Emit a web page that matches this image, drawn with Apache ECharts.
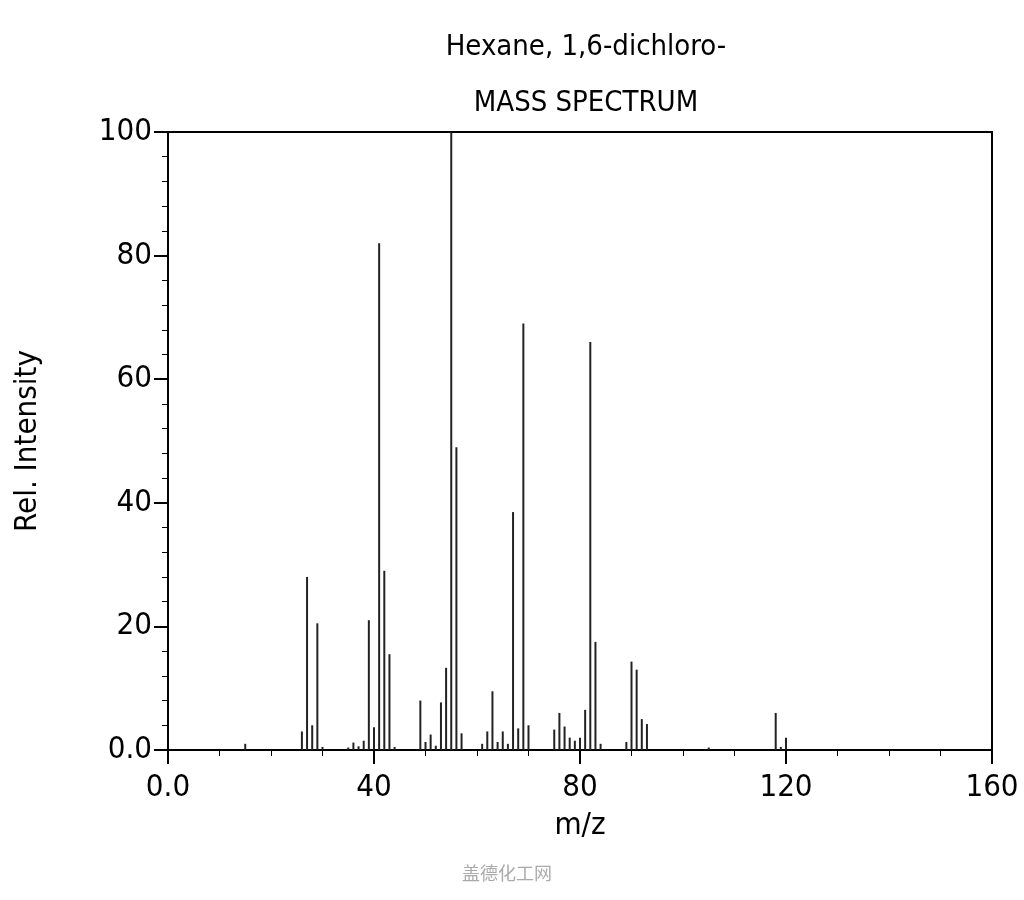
<!DOCTYPE html>
<html><head><meta charset="utf-8">
<script src="https://cdn.jsdelivr.net/npm/echarts@6/dist/echarts.min.js"></script>
<style>html,body{margin:0;background:#fff}#c{width:1024px;height:900px}</style>
</head><body><div id="c"></div>
<script>
var mz = [15,26,27,28,29,30,35,36,37,38,39,40,41,42,43,44,49,50,51,52,53,54,55,56,57,61,62,63,64,65,66,67,68,69,70,75,76,77,78,79,80,81,82,83,84,89,90,91,92,93,105,118,119,120];
var intensity = [1,3,28,4,20.5,0.5,0.4,1.2,0.6,1.5,21,3.7,82,29,15.5,0.5,8,1.3,2.5,0.7,7.7,13.3,100,49,2.7,1,3,9.5,1.3,3,1,38.5,3.5,69,4,3.3,6,3.8,2,1.5,2,6.5,66,17.5,1,1.3,14.3,13,5,4.2,0.4,6,0.5,2];

var chart = echarts.init(document.getElementById('c'));
var fnt = '"DejaVu Sans Condensed", "DejaVu Sans"';
chart.setOption({
  animation: false,
  title: {
    text: 'Hexane, 1,6-dichloro-\nMASS SPECTRUM', left: 581, top: 14, textAlign: 'center',
    textStyle: { fontFamily: fnt, fontSize: 29, fontWeight: 'normal', color: '#000', lineHeight: 56 }
  },
  grid: { left: 168, right: 32, top: 132, bottom: 150, show: true, borderColor: '#000', borderWidth: 2 },
  xAxis: {
    type: 'value', min: 0, max: 160, interval: 40,
    name: 'm/z', nameLocation: 'middle', nameGap: 60,
    nameTextStyle: { fontFamily: fnt, fontSize: 31, color: '#000' },
    axisLine: { lineStyle: { color: '#000', width: 2 } },
    axisTick: { length: 14, lineStyle: { color: '#000', width: 2 } },
    minorTick: { show: true, splitNumber: 4, length: 6, lineStyle: { color: '#000' } },
    axisLabel: { fontFamily: fnt, fontSize: 31, color: '#000', margin: 22,
      formatter: function (v) { return v === 0 ? '0.0' : String(v); } },
    splitLine: { show: false }
  },
  yAxis: {
    type: 'value', min: 0, max: 100, interval: 20,
    name: 'Rel. Intensity', nameLocation: 'middle', nameGap: 125,
    nameTextStyle: { fontFamily: fnt, fontSize: 31, color: '#000' },
    axisLine: { show: true, lineStyle: { color: '#000', width: 2 } },
    axisTick: { length: 14, lineStyle: { color: '#000', width: 2 } },
    minorTick: { show: true, splitNumber: 5, length: 6, lineStyle: { color: '#000' } },
    axisLabel: { fontFamily: fnt, fontSize: 31, color: '#000', margin: 16,
      formatter: function (v) { return v === 0 ? '0.0' : String(v); } },
    splitLine: { show: false }
  },
  series: [{
    type: 'bar', barWidth: 2,
    itemStyle: { color: '#222' },
    data: mz.map(function (m, i) { return [m, intensity[i]]; })
  }],
  graphic: [{
    type: 'text', left: 462, top: 864,
    style: { text: '盖德化工网', font: '18px "Noto Sans CJK SC"', fill: '#aaa' }
  }]
});
</script></body></html>
